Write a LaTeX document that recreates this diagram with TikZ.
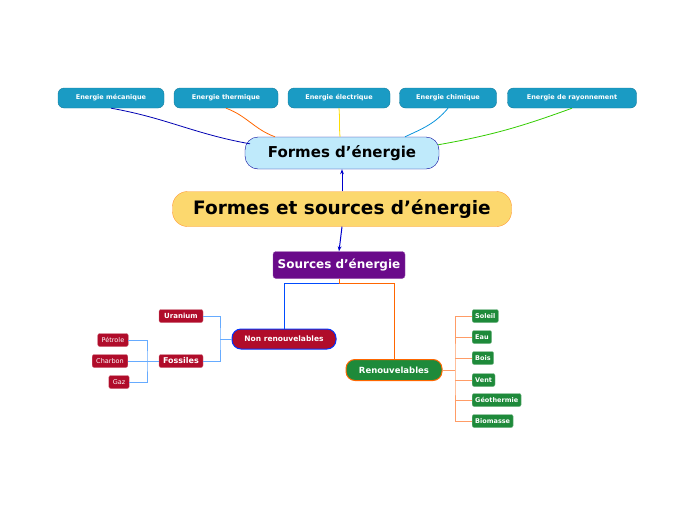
\documentclass[tikz,border=0pt]{standalone}
\usepackage{fontspec}
\setmainfont{DejaVu Sans}
\usetikzlibrary{arrows.meta}
\definecolor{cy}{HTML}{1A9BC4}
\definecolor{red1}{HTML}{B00C2A}
\definecolor{grn}{HTML}{1E8A3A}
\definecolor{purp}{HTML}{6A0A8A}
\tikzset{
 top/.style={draw=cy!80!black,fill=cy,rounded corners=6pt,text=white,font=\bfseries\fontsize{6.5}{7}\selectfont,minimum height=20pt,inner xsep=3pt},
 leafr/.style={draw=red1!60,fill=red1,rounded corners=2pt,text=white,font=\fontsize{6.5}{7}\selectfont,minimum height=13pt,inner xsep=4pt},
 leafg/.style={draw=grn!60,fill=grn,rounded corners=2pt,text=white,font=\bfseries\fontsize{6.5}{7}\selectfont,minimum height=13pt,inner xsep=3pt},
 tl/.style={line width=0.8pt},
 br/.style={draw=blue!55!cyan!60,line width=0.7pt},
 bo/.style={draw=orange!70!red!60,line width=0.7pt}
}
\begin{document}
\begin{tikzpicture}[x=1pt,y=-1pt]
\useasboundingbox (0,0) rectangle (697,520);
\node[top,minimum width=106pt] (t1) at (111,98) {Energie mécanique};
\node[top,minimum width=104pt] (t2) at (226,98) {Energie thermique};
\node[top,minimum width=102pt] (t3) at (339,98) {Energie électrique};
\node[top,minimum width=97pt] (t4) at (448,98) {Energie chimique};
\node[top,minimum width=129pt] (t5) at (572,98) {Energie de rayonnement};
\node[draw=blue!60!black,fill=cyan!25,rounded corners=13pt,minimum width=194pt,minimum height=32pt,font=\bfseries\fontsize{15}{17}\selectfont] (fe) at (342,153) {Formes d'énergie};
\node[draw=orange!80,fill=yellow!50!orange!55,rounded corners=15pt,minimum width=339pt,minimum height=35pt,font=\bfseries\fontsize{18.5}{20}\selectfont] (m) at (342,209) {Formes et sources d'énergie};
\node[draw=purp!70,fill=purp,rounded corners=3pt,text=white,minimum width=132pt,minimum height=27pt,font=\bfseries\fontsize{12}{14}\selectfont] (s) at (339,265) {Sources d'énergie};
\node[draw=blue!80!cyan,line width=1pt,fill=red1,rounded corners=9pt,text=white,minimum width=104pt,minimum height=20pt,font=\bfseries\fontsize{7.5}{9}\selectfont] (nr) at (284,339) {Non renouvelables};
\node[draw=orange!80!red,line width=1pt,fill=grn,rounded corners=9pt,text=white,minimum width=96pt,minimum height=21pt,font=\bfseries\fontsize{8.5}{10}\selectfont] (rn) at (394,370) {Renouvelables};
\node[leafr,font=\bfseries\fontsize{7}{8}\selectfont,minimum width=44pt] (ur) at (181,316) {Uranium};
\node[leafr,font=\bfseries\fontsize{8}{9}\selectfont,minimum width=44pt] (fo) at (181,361) {Fossiles};
\node[leafr] (pe) at (113,340) {Pétrole};
\node[leafr] (ch) at (110,361) {Charbon};
\node[leafr] (gz) at (119,382) {Gaz};
\node[leafg,anchor=west] (r1) at (472,316) {Soleil};
\node[leafg,anchor=west] (r2) at (472,337) {Eau};
\node[leafg,anchor=west] (r3) at (472,358) {Bois};
\node[leafg,anchor=west] (r4) at (472,380) {Vent};
\node[leafg,anchor=west] (r5) at (472,400) {Géothermie};
\node[leafg,anchor=west] (r6) at (472,421) {Biomasse};
% top curves
\draw[tl,blue!70!black] (t1.south) to[out=-10,in=170] ([xshift=-92pt,yshift=-7pt]fe.north);
\draw[tl,orange!80!red] (t2.south) to[out=-20,in=160] ([xshift=-67pt]fe.north);
\draw[tl,yellow!80!orange] (t3.south) to[out=-85,in=95] ([xshift=-2pt]fe.north);
\draw[tl,cyan!80!blue] (t4.south) to[out=-130,in=25] ([xshift=63pt]fe.north);
\draw[tl,green!60!olive] (t5.south) to[out=-160,in=10] ([xshift=96pt,yshift=-8pt]fe.north);
\draw[-{Stealth[length=5pt]},line width=1pt,blue!80!black] (m.north) -- (fe.south);
\draw[-{Stealth[length=5pt]},line width=1pt,blue!80!black] (m.south) -- (s.north);
\draw[line width=1pt,blue!70!cyan] (s.south) |- (284,283) -- (nr.north);
\draw[line width=1pt,orange!80!red] (s.south) |- (394,283) -- (rn.north);
\coordinate (a) at (220,339);
\draw[br] (nr.west) -- (a);
\draw[br] (ur.east) -| (a) |- (fo.east);
\coordinate (b) at (147,361);
\draw[br] (fo.west) -- (b);
\draw[br] (pe.east) -| (b) |- (gz.east);
\draw[br] (ch.east) -- (b);
\coordinate (c) at (455,370);
\draw[bo] (rn.east) -- (c);
\draw[bo] (r1.west) -| (c) |- (r6.west);
\foreach \r in {r2,r3,r4,r5} \draw[bo] (\r.west) -- (c|-\r.west);
\end{tikzpicture}
\end{document}
